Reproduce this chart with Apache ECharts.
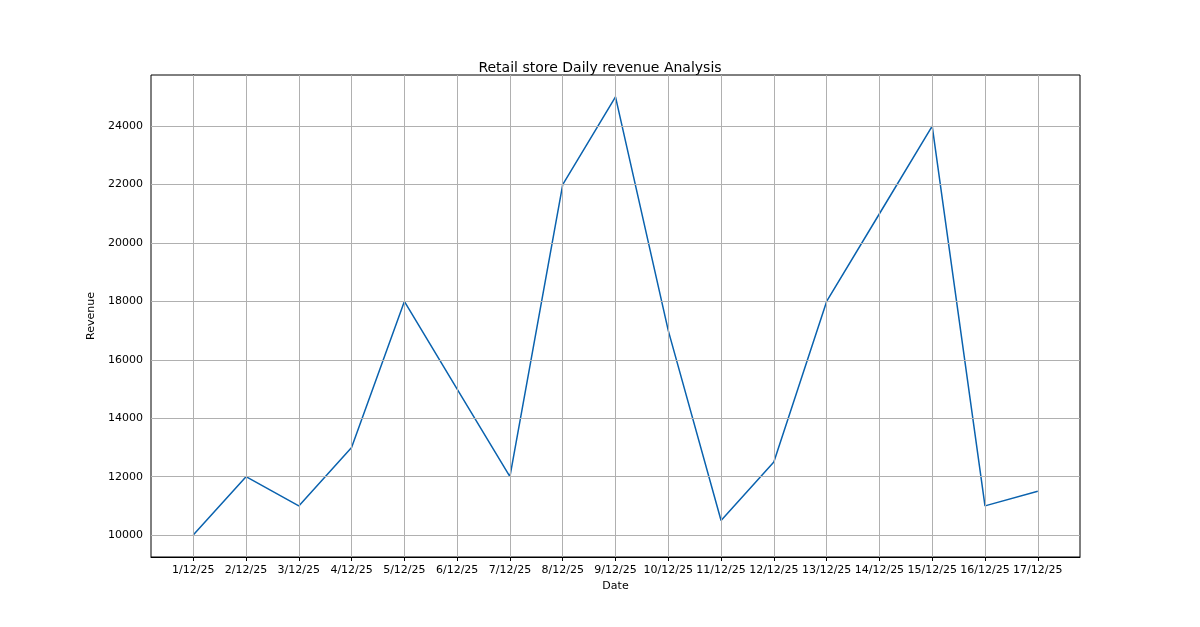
<!DOCTYPE html>
<html>
<head>
<meta charset="UTF-8">
<script src="https://cdn.jsdelivr.net/npm/echarts@6/dist/echarts.min.js"></script>
</head>
<body style="margin:0">
<div id="chart" style="width:1200px;height:627px;"></div>
<script>
var dates = ['1/12/25','2/12/25','3/12/25','4/12/25','5/12/25','6/12/25','7/12/25','8/12/25','9/12/25','10/12/25','11/12/25','12/12/25','13/12/25','14/12/25','15/12/25','16/12/25','17/12/25'];
var revenue = [10000,12000,11000,13000,18000,15000,12000,22000,25000,17000,10500,12500,18000,21000,24000,11000,11500];
var yTicks = [10000,12000,14000,16000,18000,20000,22000,24000];

var xIdx = dates.map(function (d, i) { return i; });
var gridLines = xIdx.map(function (i) { return { xAxis: i }; })
    .concat(yTicks.map(function (v) { return { yAxis: v }; }));

var chart = echarts.init(document.getElementById('chart'));
chart.setOption({
    animation: false,
    title: { text: 'Retail store Daily revenue Analysis', left: 'center', top: 56,
        textStyle: { fontSize: 14, fontWeight: 'normal', color: '#000', fontFamily: 'DejaVu Sans' } },
    grid: { left: 151, right: 120, top: 75, bottom: 70, show: true, borderColor: '#000', borderWidth: 1 },
    xAxis: {
        type: 'value', min: -0.8, max: 16.8,
        name: 'Date', nameLocation: 'middle', nameGap: 23,
        nameTextStyle: { color: '#000', fontSize: 11, fontFamily: 'DejaVu Sans' },
        splitLine: { show: false },
        axisLine: { lineStyle: { color: '#000' } },
        axisTick: { customValues: xIdx, length: 4, lineStyle: { color: '#000' } },
        axisLabel: { customValues: xIdx, color: '#000', fontSize: 11, fontFamily: 'DejaVu Sans',
            formatter: function (v) { return dates[Math.round(v)]; } }
    },
    yAxis: {
        type: 'value', min: 9250, max: 25750,
        name: 'Revenue', nameLocation: 'middle', nameGap: 52,
        nameTextStyle: { color: '#000', fontSize: 11, fontFamily: 'DejaVu Sans' },
        splitLine: { show: false },
        axisLine: { show: true, lineStyle: { color: '#000' } },
        axisTick: { show: true, customValues: yTicks, length: 4, lineStyle: { color: '#000' } },
        axisLabel: { customValues: yTicks, color: '#000', fontSize: 11, fontFamily: 'DejaVu Sans',
            formatter: function (v) { return String(v); } }
    },
    series: [{
        type: 'line',
        data: revenue.map(function (v, i) { return [i, v]; }),
        showSymbol: false,
        lineStyle: { color: '#0a62ae', width: 1.5 },
        markLine: {
            silent: true, symbol: 'none', label: { show: false },
            lineStyle: { color: '#b0b0b0', type: 'solid', width: 1 },
            data: gridLines
        }
    }]
});
</script>
</body>
</html>
